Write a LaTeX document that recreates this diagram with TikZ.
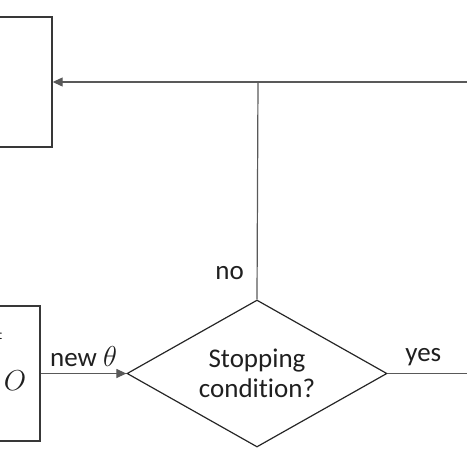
\documentclass[tikz,border=0pt]{standalone}
\usepackage{fontspec}
\setmainfont{Carlito}[Ligatures=NoCommon]
\usetikzlibrary{arrows.meta,positioning,shapes.geometric}

\begin{document}
\begin{tikzpicture}[
  x=0.5pt,y=-0.5pt,
  font=\fontsize{13.5}{14.8}\selectfont,
  text=black!88,
  box/.style={draw=black!78,line width=0.7pt,inner sep=0pt},
  decision/.style={diamond,draw=black!85,line width=0.6pt,aspect=2,inner sep=0pt,
    minimum width=130pt,minimum height=73.5pt,align=center},
  link/.style={draw=black!65,line width=0.6pt},
  arr/.style={link,-{Triangle[length=5pt,width=4.5pt]}}
]
\useasboundingbox (0,0) rectangle (467,467);
\clip (0,0) rectangle (467,467);

\node[box,minimum width=56pt,minimum height=65pt] (init) at (-4,82) {};
\node[box,minimum width=50pt,minimum height=67.5pt] (update) at (-10,373.5) {};
\node[anchor=east,inner sep=0pt] (updtxt) at (4,338) {\Large$=$};
\node (updO) at (15,381) {\Large$O$};

\node[decision] (stop) at (257,373.5) {Stopping\\condition?};

\coordinate (loopin) at (467,82);
\coordinate (join) at (258,82);
\coordinate (yesout) at (467,373.5);

\draw[arr] (loopin) -- (init);
\draw[link] (stop.north) -- node[pos=0.12,left,xshift=-3pt] {no} (join);
\draw[arr] (update) -- node[above] {new $\theta$} (stop);
\draw[link] (stop.east) -- node[above,pos=0.45] {yes} (yesout);
\end{tikzpicture}
\end{document}
